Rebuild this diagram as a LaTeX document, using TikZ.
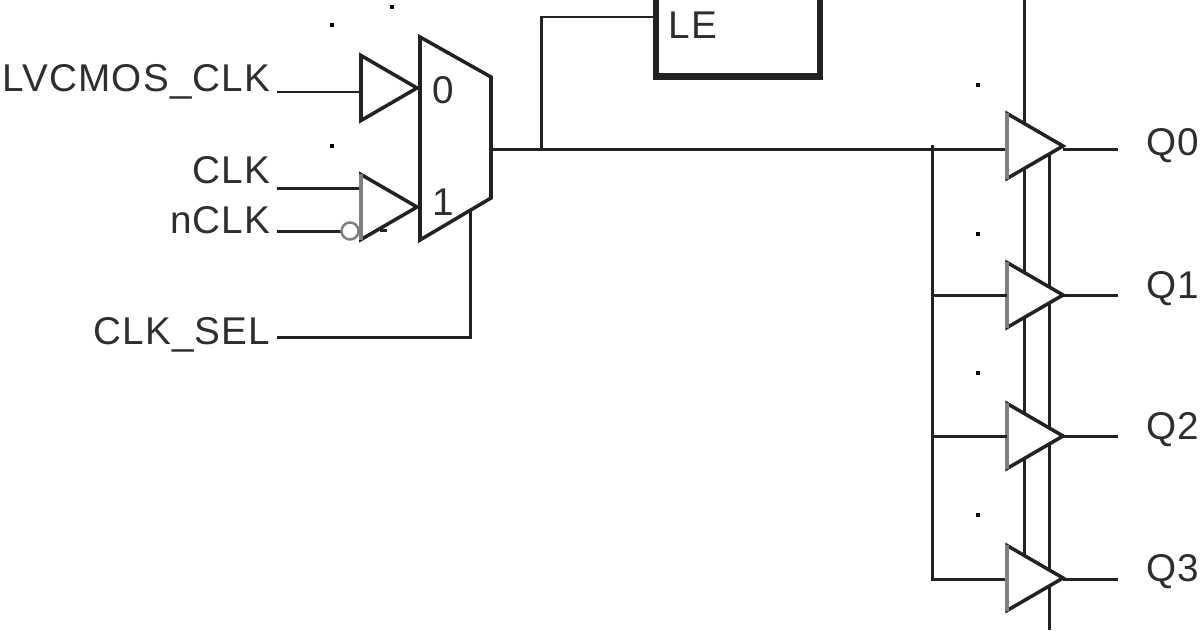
\documentclass[tikz,border=0pt]{standalone}
\usepackage{fontspec}
\setmainfont[LetterSpace=3]{Liberation Sans}
\usetikzlibrary{shapes.geometric,calc}
\definecolor{ink}{HTML}{222222}
\definecolor{txt}{HTML}{2E2E2E}
\tikzset{
	wire/.style={draw=ink,line width=0.85pt},
	buffer/.style={isosceles triangle,isosceles triangle stretches,draw=ink,fill=white,line width=1pt,inner sep=0pt,outer sep=0pt,minimum width=0.65cm,minimum height=0.56cm,anchor=lower side},
	lbl/.style={text=txt,inner sep=0pt,font=\fontsize{11}{13}\selectfont},
	speck/.style={fill=black,inner sep=0pt,minimum size=0.035cm}
}

\begin{document}
\begin{tikzpicture}[x=0.01cm,y=-0.01cm]
		\useasboundingbox (0,0) rectangle (1200,630);
		\clip (0,0) rectangle (1200,630);
		% mux corners
		\coordinate (m1) at (420,37);
		\coordinate (m2) at (491,77);
		\coordinate (m3) at (491,198);
		\coordinate (m4) at (420,240);
		% labels
		\node[lbl,anchor=base east] (lvclk) at (271,91) {LVCMOS\_CLK};
		\node[lbl,anchor=base east] (clk) at (271,183) {CLK};
		\node[lbl,anchor=base east] (nclk) at (271,233) {nCLK};
		\node[lbl,anchor=base east] (clksel) at (271,344) {CLK\_SEL};
		% free ends
		\coordinate (lvin) at (277,92);
		\coordinate (clkin) at (277,188);
		\coordinate (nclkin) at (277,231);
		\coordinate (selin) at (277,337);
		\coordinate (muxout) at (491,149);
		\coordinate (tap) at (541,149);
		\coordinate (bus) at (932,145);
		\coordinate (bus3) at (932,579);
		% latch enable box
		\node[draw=ink,line width=1.85pt,minimum width=1.635cm,minimum height=1.165cm,inner sep=0pt] (le) at (738,18) {};
		\node[lbl,anchor=west] (letxt) at (668,25) {LE};
		\draw[wire] (tap) |- (le.west |- 0,17);
		% shared rails, the buffers cover them
		\coordinate (r1) at (1024,0);
		\coordinate (r1end) at (1024,570);
		\coordinate (r2) at (1049,150);
		\coordinate (r2end) at (1049,630);
		\draw[wire] (r1) -- (r1end);
		\draw[wire] (r2) -- (r2end);
		% select and clock bus
		\draw[wire] (selin) -| (470,205);
		\draw[wire] (muxout) -- (1006,149);
		\draw[wire] (bus) -- (bus3) -- (1006,579);
		% input buffers
		\node[buffer] (ib0) at (361,88) {};
		\node[buffer] (ib1) at (361,207) {};
		\draw[wire] (lvin) -- (lvin -| ib0.lower side);
		\draw[wire] (clkin) -- (clkin -| ib1.lower side);
		\draw[wire] (nclkin) -- (342,231);
		\node[draw=gray,line width=0.7pt,fill=white,circle,inner sep=0pt,minimum size=0.17cm] (bub) at (350,231) {};
		\draw[draw=gray,line width=1.2pt] (ib1.left corner) -- (ib1.right corner);
		\coordinate (nick) at (380,230);
		\draw[wire] (nick) -- ++(7,0);
		% output buffers
		\foreach \n/\y/\yo in {0/146/149,1/295/295,2/436/436,3/578/579}{
			\node[buffer] (q\n) at (1007,\y) {};
			\draw[draw=gray,line width=1.4pt] (q\n.left corner) -- (q\n.right corner);
			\coordinate (o\n) at (1118,\yo);
			\draw[wire] (o\n -| q\n.apex) -- (o\n);
		}
		\draw[wire] (932,295) -- (q1.lower side);
		\draw[wire] (932,436) -- (q2.lower side);
		\node[lbl,anchor=west] (q0txt) at (1146,146) {Q0};
		\node[lbl,anchor=west] (q1txt) at (1146,289) {Q1};
		\node[lbl,anchor=west] (q2txt) at (1146,430) {Q2};
		\node[lbl,anchor=west] (q3txt) at (1146,572) {Q3};
		% mux
		\draw[draw=ink,fill=white,line width=1pt,line join=miter] (m1) -- (m2) -- (m3) -- (m4) -- cycle;
		\node[lbl] (sel0) at (443,90) {0};
		\node[lbl] (sel1) at (443,202) {1};
		% stray specks
		\foreach \x/\y [count=\i] in {332/25,392/7,332/146,978/85,978/234,978/373,978/515}
			\node[speck] (dot\i) at (\x,\y) {};
\end{tikzpicture}
\end{document}
